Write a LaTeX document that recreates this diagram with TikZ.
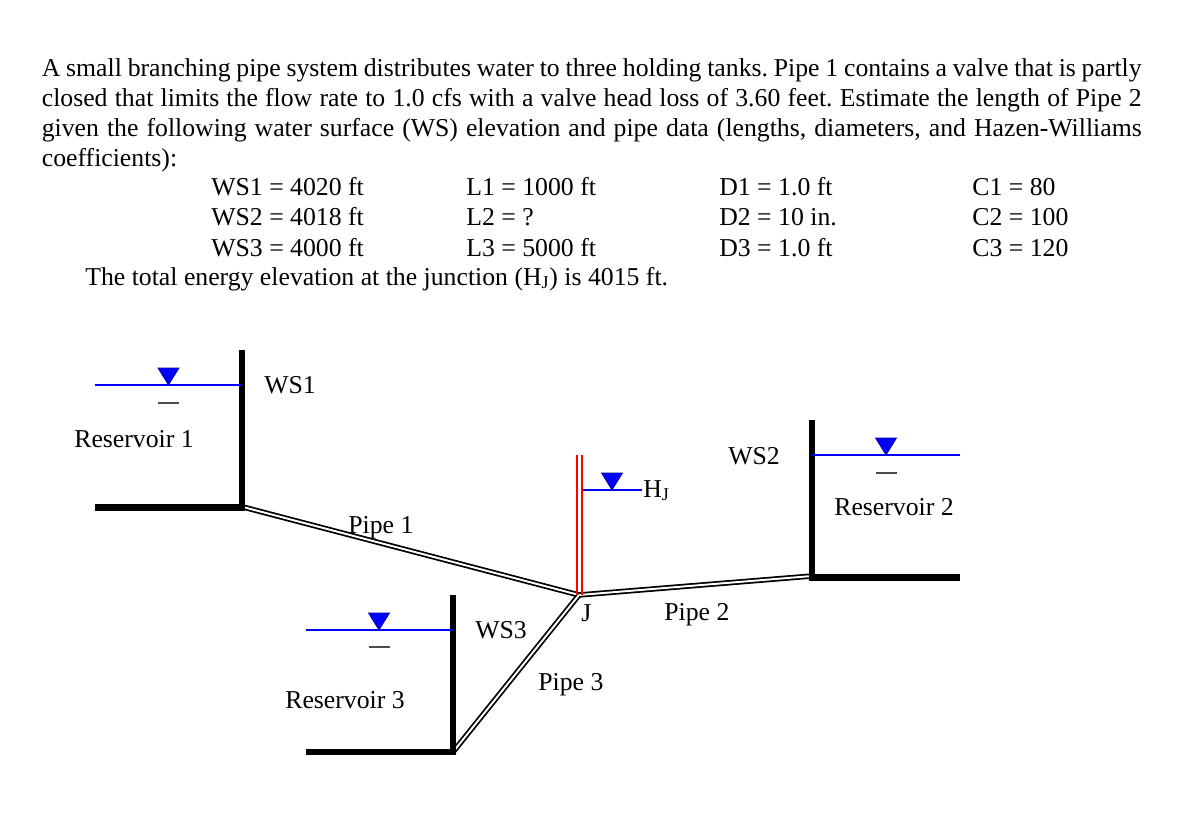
\documentclass[tikz,border=0pt]{standalone}
\usepackage{fontspec}
\setmainfont{Liberation Serif}
\frenchspacing
\tikzstyle{label} = [rectangle, anchor=base west, inner sep=0pt, font=\fontsize{14.65}{17}\selectfont]
\tikzstyle{wall} = [line width=3.7pt]
\tikzstyle{water} = [line width=0.95pt, color=blue]
\tikzstyle{pipe} = [draw, double, line width=1pt, double distance=1.1pt]
\tikzstyle{gage} = [line width=1pt, color=red]
\begin{document}
\begin{tikzpicture}[x=0.02cm,y=-0.02cm]
		\useasboundingbox (0,0) rectangle (1183,814);

		%problem text
		\node[label, text width=22cm, align=justify](problem) at (41.5,77) {A small branching pipe system distributes water to three holding tanks. Pipe 1 contains a valve that is partly\linebreak closed that limits the flow rate to 1.0 cfs with a valve head loss of 3.60 feet. Estimate the length of Pipe 2\linebreak given the following water surface (WS) elevation and pipe data (lengths, diameters, and Hazen-Williams\linebreak coefficients):};
		%data table
		\node[label](ws1data) at (211,196) {WS1 = 4020 ft};
		\node[label](ws2data) at (211,226) {WS2 = 4018 ft};
		\node[label](ws3data) at (211,256) {WS3 = 4000 ft};
		\node[label](l1data) at (466,196) {L1 = 1000 ft};
		\node[label](l2data) at (466,226) {L2 = ?};
		\node[label](l3data) at (466,256) {L3 = 5000 ft};
		\node[label](d1data) at (719,196) {D1 = 1.0 ft};
		\node[label](d2data) at (719,226) {D2 = 10 in.};
		\node[label](d3data) at (719,256) {D3 = 1.0 ft};
		\node[label](c1data) at (972,196) {C1 = 80};
		\node[label](c2data) at (972,226) {C2 = 100};
		\node[label](c3data) at (972,256) {C3 = 120};
		\node[label](energy) at (85,285) {The total energy elevation at the junction (H\textsubscript{J}) is 4015 ft.};

		%pipes
		\coordinate (res1) at (243,507);
		\coordinate (res2) at (812,576);
		\coordinate (res3) at (453,752);
		\coordinate (junction) at (579,595);
		\draw[pipe] (res1) -- (junction);
		\draw[pipe] (junction) -- (res2);
		\draw[pipe] (junction) -- (res3);

		%reservoirs
		\draw[wall] (242,350) -- (242,507.5) -- (95,507.5);
		\draw[wall] (812,420) -- (812,577.5) -- (960,577.5);
		\draw[wall] (453,595) -- (453,752) -- (306,752);

		%water surfaces
		\draw[water] (95,385) -- (242,385);
		\draw[water] (812,455) -- (960,455);
		\draw[water] (306,630) -- (453,630);
		\draw[water] (581,490) -- (642,490);
		\foreach \x/\y in {168.5/385,886/455,379/630,612/490}
			\filldraw[fill=blue, draw=blue!60!black, line width=0.4pt] (\x-10.5,\y-17) -- (\x+10.5,\y-17) -- (\x,\y) -- cycle;
		\foreach \x/\y in {168.5/403,886/473,379/647}
			\draw[line width=0.6pt, color=black!70] (\x-10.5,\y) -- (\x+10.5,\y);

		%gage tube
		\draw[gage] (577,455) -- (577,595);
		\draw[gage] (582,455) -- (582,595);

		%labels
		\node[label](reservoir1) at (74,447) {Reservoir 1};
		\node[label](reservoir2) at (834,515) {Reservoir 2};
		\node[label](reservoir3) at (285,708) {Reservoir 3};
		\node[label](ws1) at (264,393) {WS1};
		\node[label](ws2) at (728,464) {WS2};
		\node[label](ws3) at (475,638) {WS3};
		\node[label](hj) at (643,497) {H\textsubscript{J}};
		\node[label](j) at (581,621) {J};
		\node[label](pipe1) at (348,533) {Pipe 1};
		\node[label](pipe2) at (664,620) {Pipe 2};
		\node[label](pipe3) at (538,690) {Pipe 3};
		\end{tikzpicture}
\end{document}
